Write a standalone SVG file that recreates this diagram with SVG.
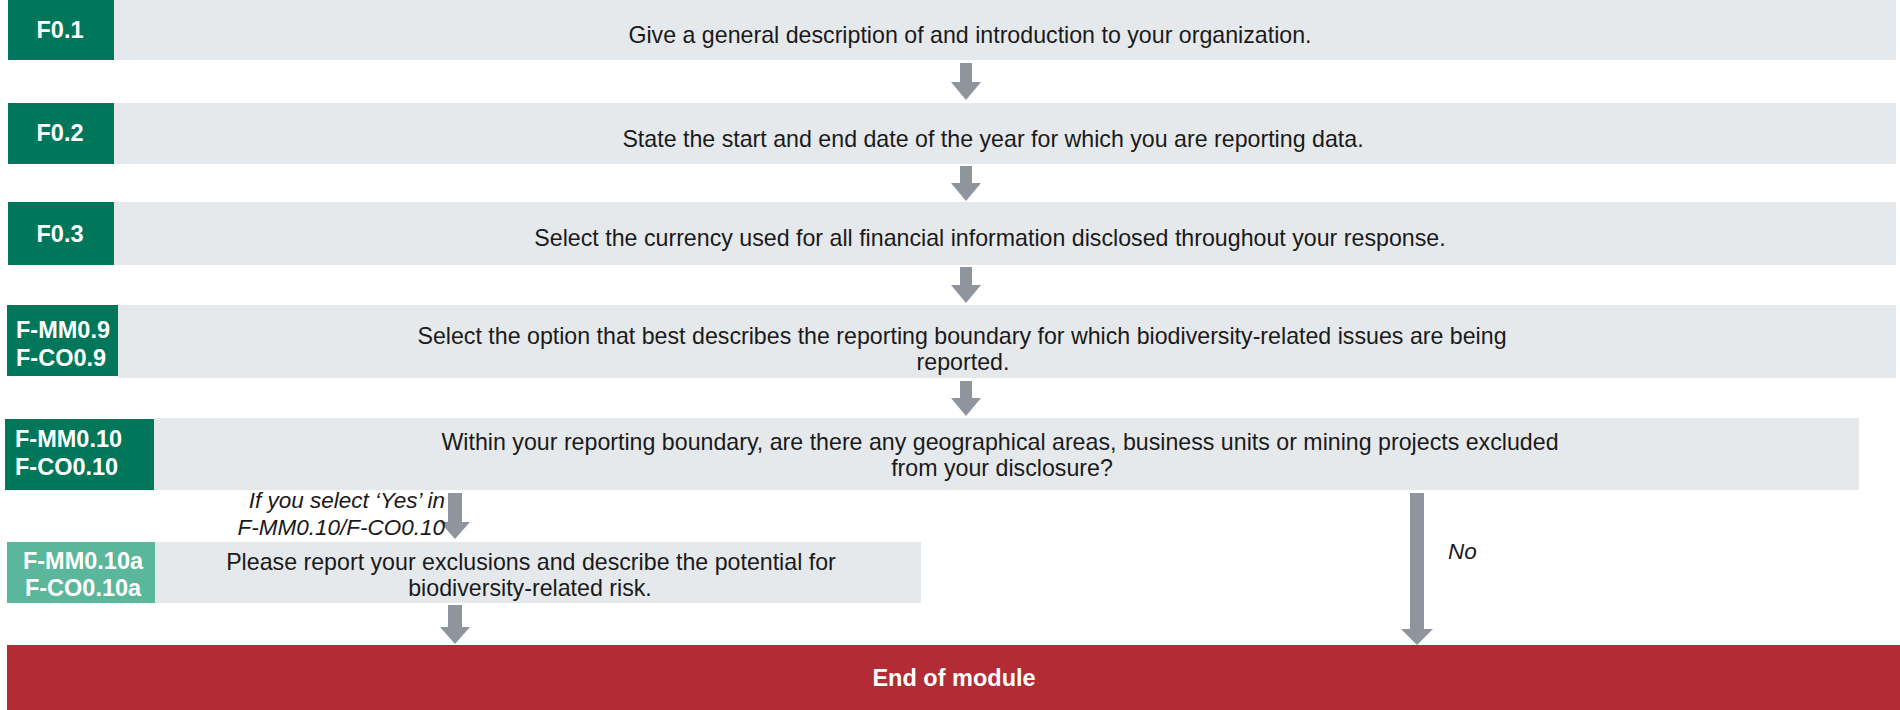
<svg xmlns="http://www.w3.org/2000/svg" width="1900" height="710" viewBox="0 0 1900 710">
<style>
.bg{fill:#ffffff}
.q{fill:#e6e9ec}
.g{fill:#00775a}
.lg{fill:#5bb79c}
.red{fill:#b32b35}
.arr{fill:#8e959d}
.t{font-family:"Liberation Sans",Arial,sans-serif;font-size:23.2px;fill:#1a1a1a;text-anchor:middle}
.lb{font-family:"Liberation Sans",Arial,sans-serif;font-size:23.5px;font-weight:bold;fill:#ffffff}
.it{font-family:"Liberation Sans",Arial,sans-serif;font-size:22.5px;font-style:italic;fill:#1a1a1a}
</style>
<rect class="bg" x="0" y="0" width="1900" height="710"/>
<g id="connectors">
<path class="arr" d="M960,63 H972 V82 H981 L966,100 L951,82 H960 Z"/>
<path class="arr" d="M960,166 H972 V183 H981 L966,201 L951,183 H960 Z"/>
<path class="arr" d="M960,267 H972 V285 H981 L966,303 L951,285 H960 Z"/>
<path class="arr" d="M960,381 H972 V398 H981 L966,416 L951,398 H960 Z"/>
<path class="arr" d="M448,493 H462 V522 H470 L455,539 L440,522 H448 Z"/>
<path class="arr" d="M448,605 H462 V627 H470 L455,644 L440,627 H448 Z"/>
<path class="arr" d="M1410,493 H1424 V629 H1433 L1417,645 L1401,629 H1410 Z"/>
<text class="it" x="445" y="508" text-anchor="end">If you select ‘Yes’ in</text>
<text class="it" x="445" y="535" text-anchor="end">F-MM0.10/F-CO0.10</text>
<text class="it" x="1448" y="559">No</text>
</g>
<g id="F0.1">
<rect class="q" x="114" y="0" width="1782" height="60"/>
<rect class="g" x="8" y="0" width="106" height="60"/>
<text class="lb" x="60" y="38" text-anchor="middle">F0.1</text>
<text class="t" x="970" y="43">Give a general description of and introduction to your organization.</text>
</g>
<g id="F0.2">
<rect class="q" x="114" y="103" width="1782" height="61"/>
<rect class="g" x="8" y="103" width="106" height="61"/>
<text class="lb" x="60" y="141" text-anchor="middle">F0.2</text>
<text class="t" x="993" y="147">State the start and end date of the year for which you are reporting data.</text>
</g>
<g id="F0.3">
<rect class="q" x="114" y="202" width="1782" height="63"/>
<rect class="g" x="8" y="202" width="106" height="63"/>
<text class="lb" x="60" y="242" text-anchor="middle">F0.3</text>
<text class="t" x="990" y="246">Select the currency used for all financial information disclosed throughout your response.</text>
</g>
<g id="F-MM0.9">
<rect class="q" x="118" y="305" width="1778" height="73"/>
<rect class="g" x="7" y="305" width="111" height="71"/>
<text class="lb" x="16" y="338">F-MM0.9</text>
<text class="lb" x="16" y="366">F-CO0.9</text>
<text class="t" x="962" y="344">Select the option that best describes the reporting boundary for which biodiversity-related issues are being</text>
<text class="t" x="963" y="370">reported.</text>
</g>
<g id="F-MM0.10">
<rect class="q" x="154" y="418" width="1705" height="72"/>
<rect class="g" x="5" y="419" width="149" height="71"/>
<text class="lb" x="15" y="447">F-MM0.10</text>
<text class="lb" x="15" y="475">F-CO0.10</text>
<text class="t" x="1000" y="450">Within your reporting boundary, are there any geographical areas, business units or mining projects excluded</text>
<text class="t" x="1002" y="476">from your disclosure?</text>
</g>
<g id="F-MM0.10a">
<rect class="q" x="155" y="542" width="766" height="61"/>
<rect class="lg" x="7" y="542" width="148" height="61"/>
<text class="lb" x="83" y="569" text-anchor="middle">F-MM0.10a</text>
<text class="lb" x="83" y="596" text-anchor="middle">F-CO0.10a</text>
<text class="t" x="531" y="570">Please report your exclusions and describe the potential for</text>
<text class="t" x="530" y="596">biodiversity-related risk.</text>
</g>
<g id="end">
<rect class="red" x="7" y="645" width="1893" height="65"/>
<text class="lb" x="954" y="686" text-anchor="middle">End of module</text>
</g>
</svg>
